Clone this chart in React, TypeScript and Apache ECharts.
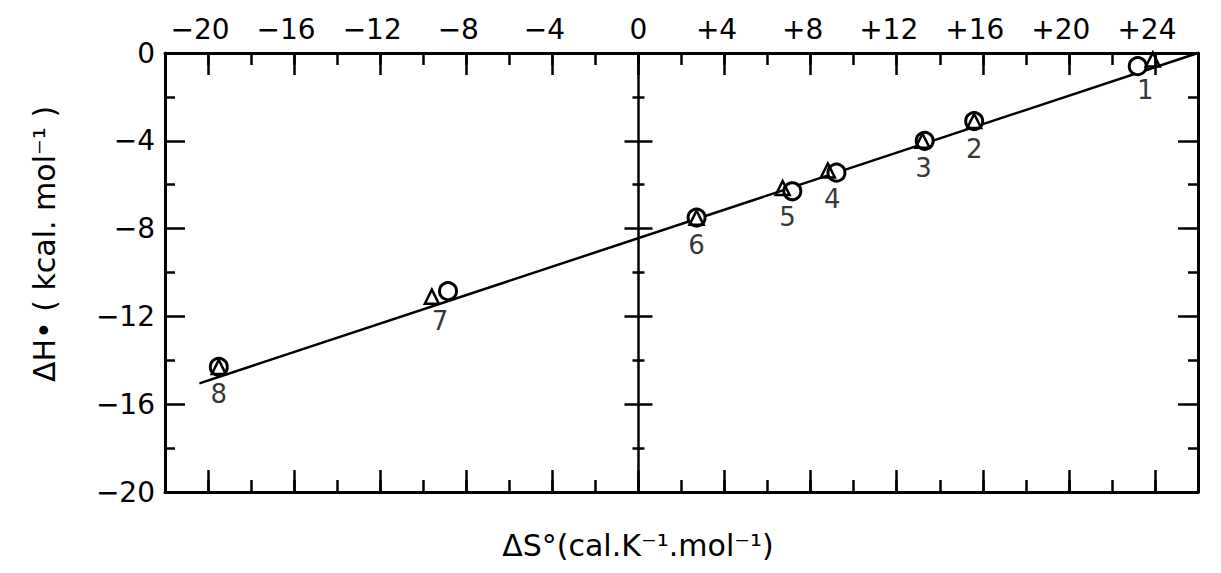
import React, { useEffect, useRef } from 'react';
import * as echarts from 'echarts';

// ΔS° (cal K^-1 mol^-1) and ΔH° (kcal mol^-1)
const pointNames = ['1', '2', '3', '4', '5', '6', '7', '8'];
const circleS = [23.2, 15.6, 13.3, 9.2, 7.15, 2.7, -8.85, -19.5];
const circleH = [-0.6, -3.1, -4.0, -5.45, -6.3, -7.5, -10.85, -14.3];
const triangleS = [23.9, 15.6, 13.2, 8.8, 6.7, 2.7, -9.6, -19.5];
const triangleH = [-0.3, -3.1, -4.0, -5.35, -6.15, -7.5, -11.1, -14.3];
const fitS = [-20.4, 26];
const fitH = [-15.05, 0];
const xMajorTicks = [-20, -16, -12, -8, -4, 0, 4, 8, 12, 16, 20, 24];

const FONT = '"DejaVu Sans", "Liberation Sans", sans-serif';

function fmtSigned(v: number): string {
  if (v === 0) return '0';
  return v > 0 ? '+' + v : '\u2212' + Math.abs(v);
}

export default function App() {
  const ref = useRef<HTMLDivElement>(null);
  useEffect(() => {
    if (!ref.current) return;
    const chart = echarts.init(ref.current, null, { renderer: 'svg' });
    const black = '#000';
    const tickStyle = { color: black, width: 2.5 };
    const xBase = { type: 'value', min: -22, max: 26, splitLine: { show: false } };
    const yBase = { type: 'value', min: -20, max: 0, interval: 4, splitLine: { show: false } };
    const labelData = pointNames.map((n, i) => ({
      name: n,
      value: [(circleS[i] + triangleS[i]) / 2, (circleH[i] + triangleH[i]) / 2],
    }));
    const tickFont = { fontSize: 28, fontFamily: FONT, color: black };
    const option: any = {
      animation: false,
      backgroundColor: '#fff',
      grid: { left: 165, right: 23, top: 53, bottom: 81, containLabel: false },
      xAxis: [
        {
          ...xBase,
          position: 'top',
          interval: 2,
          axisLine: { show: true, onZero: false, lineStyle: { color: black, width: 3 } },
          axisTick: { show: true, inside: true, length: 12, lineStyle: tickStyle },
          axisLabel: {
            show: true,
            margin: 10,
            ...tickFont,
            formatter: (v: number) => {
              if (v % 4 !== 0) return '';
              return v === 0 ? '{z|0}' : '{s|' + fmtSigned(v) + '}';
            },
            rich: {
              z: { ...tickFont },
              s: { ...tickFont, padding: [0, 16, 0, 0] },
            },
          },
        },
        {
          ...xBase,
          position: 'top',
          axisLine: { show: false, onZero: false },
          axisTick: { show: true, inside: true, length: 22, lineStyle: tickStyle, customValues: xMajorTicks },
          axisLabel: { show: false },
        },
        {
          ...xBase,
          position: 'bottom',
          interval: 2,
          axisLine: { show: true, onZero: false, lineStyle: { color: black, width: 3 } },
          axisTick: { show: true, inside: true, length: 12, lineStyle: tickStyle },
          axisLabel: { show: false },
        },
        {
          ...xBase,
          position: 'bottom',
          axisLine: { show: false, onZero: false },
          axisTick: { show: true, inside: true, length: 22, lineStyle: tickStyle, customValues: xMajorTicks },
          axisLabel: { show: false },
        },
      ],
      yAxis: [
        {
          ...yBase,
          position: 'left',
          axisLine: { show: true, onZero: false, lineStyle: { color: black, width: 3 } },
          axisTick: { show: true, inside: true, length: 20, lineStyle: tickStyle },
          minorTick: { show: true, splitNumber: 2, length: 10, lineStyle: tickStyle },
          axisLabel: {
            show: true,
            margin: 10,
            ...tickFont,
            formatter: (v: number) => (v === 0 ? '0' : '\u2212' + Math.abs(v)),
          },
        },
        {
          ...yBase,
          position: 'right',
          axisLine: { show: true, onZero: false, lineStyle: { color: black, width: 3 } },
          axisTick: { show: true, inside: true, length: 20, lineStyle: tickStyle },
          minorTick: { show: true, splitNumber: 2, length: 10, lineStyle: tickStyle },
          axisLabel: { show: false },
        },
        {
          ...yBase,
          position: 'left',
          axisLine: { show: true, onZero: true, onZeroAxisIndex: 0, lineStyle: { color: black, width: 2.5 } },
          axisTick: { show: true, inside: true, length: 14, lineStyle: tickStyle },
          minorTick: { show: true, splitNumber: 2, length: 6, lineStyle: tickStyle },
          axisLabel: { show: false },
        },
        {
          ...yBase,
          position: 'left',
          axisLine: { show: false, onZero: true, onZeroAxisIndex: 0 },
          axisTick: { show: true, inside: false, length: 14, lineStyle: tickStyle },
          minorTick: { show: true, splitNumber: 2, length: 6, lineStyle: tickStyle },
          axisLabel: { show: false },
        },
      ],
      graphic: [
        {
          type: 'text',
          x: 44,
          y: 244,
          rotation: Math.PI / 2,
          style: {
            text: 'ΔH• ( kcal. mol⁻¹ )',
            font: `30px ${FONT}`,
            fill: black,
            textAlign: 'center',
            textVerticalAlign: 'middle',
          },
        },
        {
          type: 'text',
          x: 638,
          y: 545,
          style: {
            text: 'ΔS°(cal.K⁻¹.mol⁻¹)',
            font: `30px ${FONT}`,
            fill: black,
            textAlign: 'center',
            textVerticalAlign: 'middle',
          },
        },
      ],
      series: [
        {
          type: 'line',
          xAxisIndex: 0,
          yAxisIndex: 0,
          data: fitS.map((s, i) => [s, fitH[i]]),
          symbol: 'none',
          lineStyle: { color: black, width: 2.5 },
          silent: true,
          z: 1,
        },
        {
          type: 'scatter',
          xAxisIndex: 0,
          yAxisIndex: 0,
          data: circleS.map((s, i) => [s, circleH[i]]),
          symbol: 'circle',
          symbolSize: 17,
          itemStyle: { color: '#fff', borderColor: black, borderWidth: 3, opacity: 1 },
          z: 3,
        },
        {
          type: 'scatter',
          xAxisIndex: 0,
          yAxisIndex: 0,
          data: triangleS.map((s, i) => [s, triangleH[i]]),
          symbol: 'triangle',
          symbolSize: 14,
          itemStyle: { color: 'rgba(255,255,255,0)', borderColor: black, borderWidth: 2.5, opacity: 1 },
          z: 4,
        },
        {
          type: 'scatter',
          xAxisIndex: 0,
          yAxisIndex: 0,
          data: labelData,
          symbolSize: 1,
          itemStyle: { color: 'rgba(0,0,0,0)' },
          label: {
            show: true,
            position: 'bottom',
            distance: 14,
            formatter: (p: any) => p.name,
            color: black,
            fontSize: 26,
            fontFamily: FONT,
          },
          z: 5,
        },
      ],
    };
    chart.setOption(option);
    return () => chart.dispose();
  }, []);
  return (
    <div
      ref={ref}
      style={{ position: 'fixed', left: 0, top: 0, width: 1221, height: 573, background: '#fff' }}
    />
  );
}
